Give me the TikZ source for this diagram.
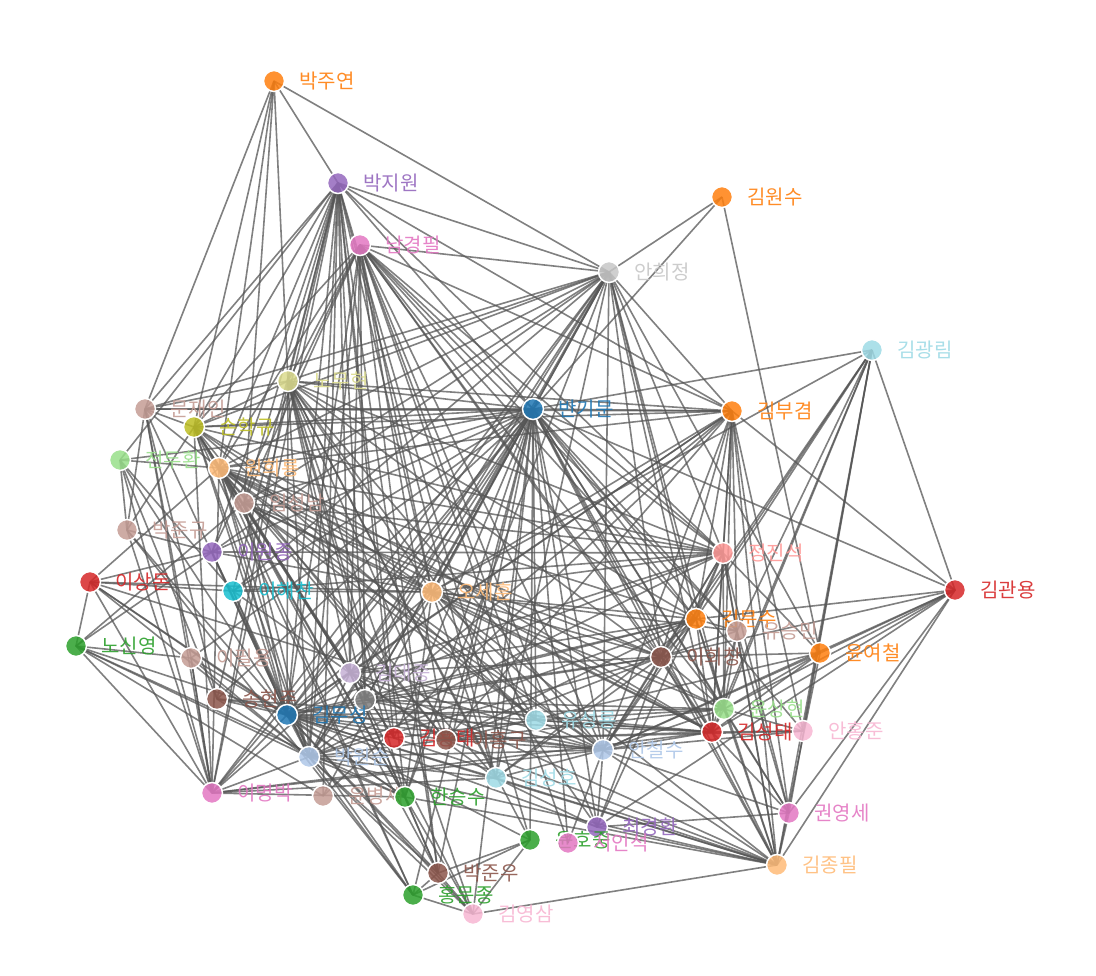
\documentclass[tikz,border=0pt]{standalone}
\usepackage{fontspec}
\newfontfamily\kr{Noto Sans CJK KR}
\usetikzlibrary{backgrounds}
\definecolor{c1}{HTML}{1f77b4}\definecolor{c2}{HTML}{aec7e8}
\definecolor{c3}{HTML}{ff7f0e}\definecolor{c4}{HTML}{ffbb78}
\definecolor{c5}{HTML}{2ca02c}\definecolor{c6}{HTML}{98df8a}
\definecolor{c7}{HTML}{d62728}\definecolor{c8}{HTML}{ff9896}
\definecolor{c9}{HTML}{9467bd}\definecolor{c10}{HTML}{c5b0d5}
\definecolor{c11}{HTML}{8c564b}\definecolor{c12}{HTML}{c49c94}
\definecolor{c13}{HTML}{e377c2}\definecolor{c14}{HTML}{f7b6d2}
\definecolor{c15}{HTML}{7f7f7f}\definecolor{c16}{HTML}{c7c7c7}
\definecolor{c17}{HTML}{bcbd22}\definecolor{c18}{HTML}{dbdb8d}
\definecolor{c19}{HTML}{17becf}\definecolor{c20}{HTML}{9edae5}
\definecolor{edgec}{HTML}{555555}
\tikzset{
  nd/.style={circle,minimum size=21pt,inner sep=0pt,draw=white,line width=1.5pt,fill opacity=0.85},
  lbl/.style={anchor=west,inner sep=0pt,font=\kr\fontsize{20}{22}\selectfont,text opacity=0.9},
  edge/.style={draw=edgec,line width=1.6pt,draw opacity=0.75}
}
\begin{document}
\begin{tikzpicture}[x=1pt,y=-1pt]
\useasboundingbox (0,0) rectangle (1096,976);
\foreach \n/\x/\y/\c/\t in {
pjy/274/81/c3/박주연, pjw/338/183/c9/박지원, kws/722/197/c3/김원수, nkp/360/245/c13/남경필,
ahj/609/272/c16/안희정, kgl/872/350/c20/김광림, nmh/288/381/c18/노무현, bkm/533/409/c1/반기문,
kbg/732/411/c3/김부겸, mji/145/409/c12/문재인, shk/194/427/c17/손학규, jdh/120/460/c6/전두환,
whr/219/468/c4/원희룡, isn/244/503/c12/임성남, pjg/127/530/c12/박준규, iwj/212/552/c9/이원종,
jjs/723/553/c8/정진석, isd/90/582/c7/이상돈, ihc/233/591/c19/이해찬, osh/432/592/c4/오세훈,
kgy/955/590/c7/김관용, kms/696/619/c3/김문수, ysm/737/631/c12/유승민, nsy/76/646/c5/노신영,
ipy/191/658/c12/이필용, ihch/661/657/c11/이회창, yyc/820/653/c3/윤여철, kdj/350/673/c10/김대중,
shj/217/699/c11/송현주, gry/365/700/c15/{}, kmsg/287/715/c1/김무성, ysr/536/720/c20/유성룡,
ysh/724/709/c6/윤상현, kst/712/732/c7/김성태, ahjn/803/731/c14/안홍준, kyt/394/738/c7/김용태,
ihg/446/740/c11/이홍구, acs/603/750/c2/안철수, pws/309/757/c2/박원순, ksh/496/778/c20/김성호,
imb/212/793/c13/이명박, ybs/323/796/c12/윤병세, hss/405/797/c5/한승수, kys/789/813/c13/권영세,
ckh/597/827/c9/최경환, grn/530/840/c5/윤호중, pnk/568/843/c13/서인석, kjp/777/865/c4/김종필,
pjwoo/438/873/c11/박준우, hmj/413/895/c5/홍문종, kysm/473/914/c14/김영삼}{
  \node[nd,fill=\c] (\n) at (\x,\y) {};
  \node[lbl,text=\c] (l-\n) at (\x+25,\y) {\t};
}
\begin{pgfonlayer}{background}
\foreach \s/\ts in {
bkm/{pjw,nkp,ahj,kbg,nmh,mji,shk,whr,isn,iwj,jjs,ihc,osh,kgy,kms,ysm,ihch,kdj,gry,kmsg,ysr,ysh,kst,kyt,ihg,acs,pws,ksh,imb,ybs,hss,ckh,grn,pnk,kjp,pjwoo,hmj,kysm,kgl,kys,shj,jdh,ipy,ahjn},
ahj/{pjy,pjw,nkp,kws,nmh,mji,shk,whr,kbg,jjs,osh,kmsg,pws,acs,kms,ihch,kdj,ysh,imb,isn,iwj,ihc,ksh,hss,gry,kst,yyc},
pjw/{pjy,mji,shk,whr,isn,iwj,ihc,kmsg,pws,imb,kdj,nmh,jjs,kbg,osh,shj,ksh,hss,gry,ybs,kyt,pjwoo,grn},
pjy/{shk,nmh,whr,isn,mji},
nkp/{kbg,jjs,kms,ysm,ihch,kmsg,whr,shk,pws,kdj,osh,acs,ysh,kst,ckh,pjwoo,nmh,isn,iwj,gry,ihg,ysr,pnk},
kws/{yyc,bkm},
nmh/{kbg,jjs,kdj,imb,kmsg,osh,pws,ksh,acs,ysr,kms,ihch,hss,kysm,gry,ihg,kyt,mji,shk,grn},
kbg/{jjs,kms,ysm,ihch,kgy,kjp,kys,osh,kmsg,pws,kdj,acs,ysh,kst,whr,shk,mji,ihg,ybs,ahjn},
kgl/{kgy,kjp,kys,kst,ysh,acs,kms,ihch,ysm,osh},
kgy/{kjp,kys,ihch,ysh,acs,kms,kst,ckh},
jjs/{kms,ysm,ihch,yyc,kjp,kys,osh,kmsg,pws,kdj,ysh,kst,acs,whr,shk,iwj,ihc,isn,ckh},
mji/{kmsg,shj,imb,whr,shk,pjg,ipy},
shk/{kmsg,pws,imb,whr,osh,kdj,ysr,ihg,kst,kyt,hss,hmj},
jdh/{whr,pjg,imb,kmsg,shj,ihc,pjw},
whr/{osh,kms,ihch,kmsg,pws,kdj,hss,ysh,kst,acs,ksh,ysr,ihg,kyt,pjwoo,hmj,imb,isd},
isn/{osh,kmsg,pws,acs,ihch,kdj,kst,ysr,nsy},
pjg/{shk,kmsg,imb,iwj,hmj},
iwj/{pws,kmsg,isd,osh,nsy},
isd/{kmsg,pws,ysr,osh,nsy,hss},
ihc/{osh,kmsg,pws,kdj,isd},
nsy/{kmsg,pws,imb,hss,ybs},
ipy/{kmsg,imb,pws,nsy},
shj/{kmsg,pws,kst,acs},
imb/{kmsg,pws,kdj,hss,ksh,kst,acs,isd,ipy},
osh/{kms,ihch,ysh,kst,acs,ksh,ckh,kjp,kmsg,pws,hss,ysm},
kms/{ysm,ihch,kst,ysh,acs,kjp,kmsg,pws,ksh,kdj,ihg},
ysm/{kjp,ysh,kst,kys,ihch},
ihch/{yyc,kjp,kst,ysh,acs,kmsg,pws,kdj,ckh,ihg,ksh},
yyc/{kgy,ysh,kst,acs,kjp,ihg},
kdj/{kmsg,pws,hss,ksh,acs,ihg,kysm,kjp,pjwoo},
gry/{kms,ihch,kst,ysh,acs,kmsg},
kmsg/{pws,hss,ksh,acs,kst,ysh,ihg,kyt,kysm,pjwoo,hmj,grn,ckh,kjp},
ysr/{ysh,kst,acs,kyt},
ysh/{kst,acs,kjp,kys,ahjn,ihg},
kst/{acs,kjp,ahjn,ihg,kys},
ahjn/{kgl,acs,ihg},
acs/{pws,ksh,kjp,ckh,ihg,kys,pnk},
pws/{hss,ksh,kjp,pjwoo,hmj,kysm,ihg},
ksh/{kjp,ckh},
hss/{kjp,kysm,pjwoo},
kys/{kjp,ckh},
ckh/{kjp},
grn/{pjwoo,hmj,kysm},
kjp/{kysm,ihg,kyt},
pjwoo/{hmj,kysm},
hmj/{kysm}}{
  \foreach \t in \ts {\draw[edge] (\s.center) -- (\t.center);}
}
\end{pgfonlayer}
\end{tikzpicture}
\end{document}
